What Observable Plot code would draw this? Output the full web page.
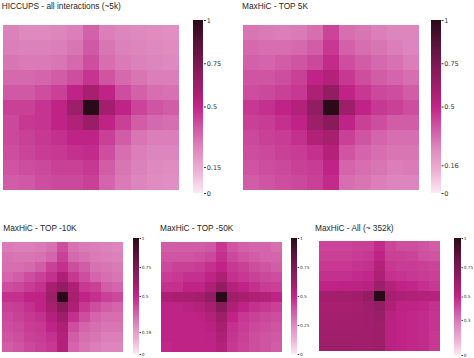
<!DOCTYPE html>
<html><head><meta charset="utf-8">
<script src="https://cdn.jsdelivr.net/npm/d3@7"></script>
<script src="https://cdn.jsdelivr.net/npm/@observablehq/plot@0.6"></script>
<style>
body{margin:0;background:#fff;}
#root{position:relative;width:474px;height:358px;overflow:hidden;background:#fff;}
.t{position:absolute;font-family:"Liberation Sans",Arial,sans-serif;font-size:8.3px;line-height:8.3px;color:#262626;white-space:nowrap;}
.p{position:absolute;}
.p svg{display:block;max-width:none !important;}
</style></head><body><div id="root"></div>
<script>
// ---- data (11 x 11 aggregate peak matrices, row by row, top to bottom) ----
const hiccups = [
 .27,.25,.25,.26,.28,.35,.28,.26,.25,.24,.23,
 .28,.27,.27,.28,.30,.37,.30,.27,.26,.25,.24,
 .30,.29,.29,.30,.33,.40,.32,.29,.27,.26,.25,
 .33,.33,.34,.36,.40,.46,.38,.33,.30,.28,.28,
 .37,.37,.40,.43,.50,.58,.50,.40,.35,.32,.31,
 .43,.43,.46,.50,.62,1.0,.60,.50,.42,.38,.36,
 .41,.45,.46,.50,.55,.63,.50,.43,.36,.33,.32,
 .41,.43,.45,.47,.50,.50,.43,.36,.30,.28,.28,
 .40,.42,.44,.45,.47,.48,.40,.32,.28,.26,.26,
 .38,.40,.41,.43,.43,.45,.36,.30,.27,.25,.24,
 .36,.37,.40,.41,.41,.43,.34,.29,.26,.24,.23
];
const top5k = [
 .30,.29,.28,.29,.32,.42,.32,.30,.28,.26,.26,
 .33,.32,.32,.33,.36,.45,.35,.32,.30,.28,.26,
 .35,.34,.36,.38,.41,.48,.40,.36,.33,.31,.28,
 .38,.38,.40,.43,.50,.54,.45,.40,.36,.34,.32,
 .40,.41,.43,.45,.56,.66,.50,.45,.41,.40,.36,
 .45,.47,.50,.54,.66,1.0,.62,.50,.45,.43,.40,
 .43,.44,.47,.50,.62,.70,.50,.43,.40,.36,.36,
 .41,.43,.44,.47,.55,.58,.43,.38,.34,.32,.32,
 .40,.41,.43,.44,.47,.54,.38,.34,.32,.30,.30,
 .38,.40,.41,.43,.44,.50,.34,.32,.30,.28,.29,
 .36,.38,.40,.41,.43,.48,.32,.30,.28,.26,.26
];
const top10k = [
 .29,.28,.28,.29,.31,.40,.31,.29,.28,.27,.26,
 .31,.30,.30,.31,.34,.43,.33,.31,.29,.28,.27,
 .32,.32,.33,.36,.43,.47,.40,.36,.31,.30,.29,
 .34,.36,.40,.43,.47,.56,.45,.40,.34,.32,.30,
 .40,.41,.44,.47,.58,.66,.56,.45,.43,.36,.34,
 .47,.47,.50,.50,.62,1.0,.58,.50,.47,.43,.41,
 .43,.44,.47,.50,.58,.70,.56,.45,.40,.36,.34,
 .41,.43,.45,.47,.54,.62,.47,.40,.34,.32,.32,
 .40,.41,.44,.45,.50,.56,.40,.34,.32,.30,.30,
 .38,.40,.43,.44,.47,.54,.36,.32,.30,.28,.28,
 .36,.38,.41,.43,.45,.54,.34,.30,.28,.26,.26
];
const top50k = [
 .36,.36,.36,.36,.37,.45,.38,.35,.34,.34,.32,
 .38,.38,.38,.39,.41,.47,.41,.38,.36,.34,.34,
 .41,.43,.43,.44,.47,.50,.45,.43,.40,.38,.36,
 .44,.45,.47,.47,.50,.56,.47,.45,.43,.41,.40,
 .47,.47,.50,.50,.56,.66,.54,.50,.47,.44,.43,
 .56,.58,.58,.60,.66,1.0,.62,.58,.56,.54,.50,
 .50,.50,.52,.54,.58,.70,.56,.50,.47,.45,.43,
 .50,.50,.50,.51,.54,.62,.50,.45,.43,.41,.40,
 .50,.50,.50,.50,.52,.58,.47,.44,.41,.40,.38,
 .50,.50,.50,.50,.51,.56,.46,.43,.40,.38,.37,
 .49,.50,.50,.50,.50,.54,.45,.42,.40,.38,.36
];
const all352k = [
 .42,.42,.42,.43,.43,.48,.42,.40,.40,.38,.36,
 .43,.43,.43,.44,.45,.50,.43,.43,.42,.39,.38,
 .45,.45,.45,.46,.47,.54,.45,.44,.44,.43,.42,
 .47,.47,.47,.48,.49,.56,.47,.46,.45,.44,.43,
 .50,.50,.51,.51,.52,.62,.54,.50,.49,.47,.45,
 .60,.60,.60,.61,.66,1.0,.58,.56,.55,.54,.53,
 .58,.58,.58,.59,.62,.66,.56,.51,.50,.49,.47,
 .59,.59,.59,.60,.61,.63,.53,.50,.49,.48,.46,
 .60,.60,.60,.60,.61,.62,.52,.50,.49,.48,.46,
 .61,.61,.61,.61,.61,.62,.52,.50,.49,.48,.45,
 .62,.62,.62,.61,.61,.62,.52,.50,.49,.48,.45
];
const panelTitles = ["HICCUPS - all interactions (~5k)","MaxHiC - TOP 5K","MaxHiC - TOP -10K","MaxHiC - TOP -50K","MaxHiC - All (~ 352k)"];
const ticks1 = [0, 0.15, 0.5, 0.75, 1];
const ticks2 = [0, 0.16, 0.5, 0.75, 1];
const ticks3 = [0, 0.19, 0.5, 0.75, 1];
const ticks4 = [0, 0.25, 0.5, 0.75, 1];
const ticks5 = [0, 0.3, 0.5, 0.75, 1];
// colormap (light pink -> magenta -> near black)
const cmapPos = [0, 0.12, 0.26, 0.38, 0.50, 0.58, 0.66, 0.75, 0.88, 1];
const cmapCol = ["#fbe8f3","#eeb2d5","#dd86bd","#cf55a3","#c02386","#a81f70","#921d62","#7a1853","#521236","#2a0a18"];

// ---- layout ----
const layout = [
 {m: hiccups, ticks: ticks1, hx:2,    hy:19.5, hw:178, hh:174, cx:193,  cy:20,  cw:10,  ch:173, fs:6.5, ts:2,   lab:26, tx:1.7, ty:2.1},
 {m: top5k,   ticks: ticks2, hx:240.5,hy:19.5, hw:179, hh:174, cx:431,  cy:20,  cw:9.5, ch:173, fs:6.5, ts:2,   lab:26, tx:242, ty:2.1},
 {m: top10k,  ticks: ticks3, hx:0,    hy:237.5,hw:124, hh:117, cx:133,  cy:238, cw:5.5, ch:116, fs:4.3, ts:1.5, lab:16, tx:3.3, ty:224.1},
 {m: top50k,  ticks: ticks4, hx:159.5,hy:237.5,hw:123, hh:117, cx:291,  cy:238, cw:5.7, ch:116, fs:4.3, ts:1.5, lab:16, tx:160, ty:224.1},
 {m: all352k, ticks: ticks5, hx:315,  hy:237,  hw:129, hh:118, cx:453.5,cy:238, cw:6.5, ch:117, fs:4.3, ts:1.5, lab:14, tx:315, ty:224.1}
];

const interp = t => {
  t = Math.max(0, Math.min(1, t));
  let i = 0;
  while (i < cmapPos.length - 2 && t > cmapPos[i + 1]) i++;
  const u = (t - cmapPos[i]) / (cmapPos[i + 1] - cmapPos[i]);
  return d3.interpolateRgb(cmapCol[i], cmapCol[i + 1])(u);
};
const colorOpt = {type: "linear", domain: [0, 1], interpolate: () => interp};

const root = document.getElementById("root");
const N = 11;
layout.forEach((L, k) => {
  const cells = L.m.map((v, i) => ({r: Math.floor(i / N), c: i % N, v}));
  const heat = Plot.plot({
    width: L.hw, height: L.hh, margin: 0,
    x: {type: "band", domain: d3.range(N), axis: null, padding: 0},
    y: {type: "band", domain: d3.range(N), axis: null, padding: 0},
    color: colorOpt,
    style: {background: "transparent"},
    marks: [Plot.cell(cells, {x: "c", y: "r", fill: "v", inset: 0, shapeRendering: "crispEdges"})]
  });
  const hd = document.createElement("div");
  hd.className = "p";
  hd.style.left = L.hx + "px"; hd.style.top = L.hy + "px";
  hd.style.width = L.hw + "px";
  hd.appendChild(heat);
  root.appendChild(hd);

  const steps = d3.range(0, 1, 0.005);
  const mt = 4;
  const bar = Plot.plot({
    width: L.cw + L.lab, height: L.ch + 2 * mt,
    marginLeft: 0, marginRight: L.lab, marginTop: mt, marginBottom: mt,
    x: {domain: [0, 1], axis: null},
    y: {domain: [0, 1], axis: "right", ticks: L.ticks, tickFormat: d => String(d), tickSize: L.ts, tickPadding: 1.2, label: null},
    color: colorOpt,
    style: {fontFamily: "'DejaVu Sans', sans-serif", fontSize: L.fs + "px", color: "#333", background: "transparent", overflow: "visible"},
    marks: [Plot.rect(steps, {x1: 0, x2: 1, y1: d => d, y2: d => Math.min(1, d + 0.012), fill: d => d, shapeRendering: "crispEdges"})]
  });
  const bd = document.createElement("div");
  bd.className = "p";
  bd.style.left = L.cx + "px"; bd.style.top = (L.cy - mt) + "px";
  bd.style.width = (L.cw + L.lab) + "px";
  bd.appendChild(bar);
  root.appendChild(bd);

  const td = document.createElement("div");
  td.className = "t";
  td.style.left = L.tx + "px"; td.style.top = L.ty + "px";
  td.textContent = panelTitles[k];
  root.appendChild(td);
});
</script></body></html>
